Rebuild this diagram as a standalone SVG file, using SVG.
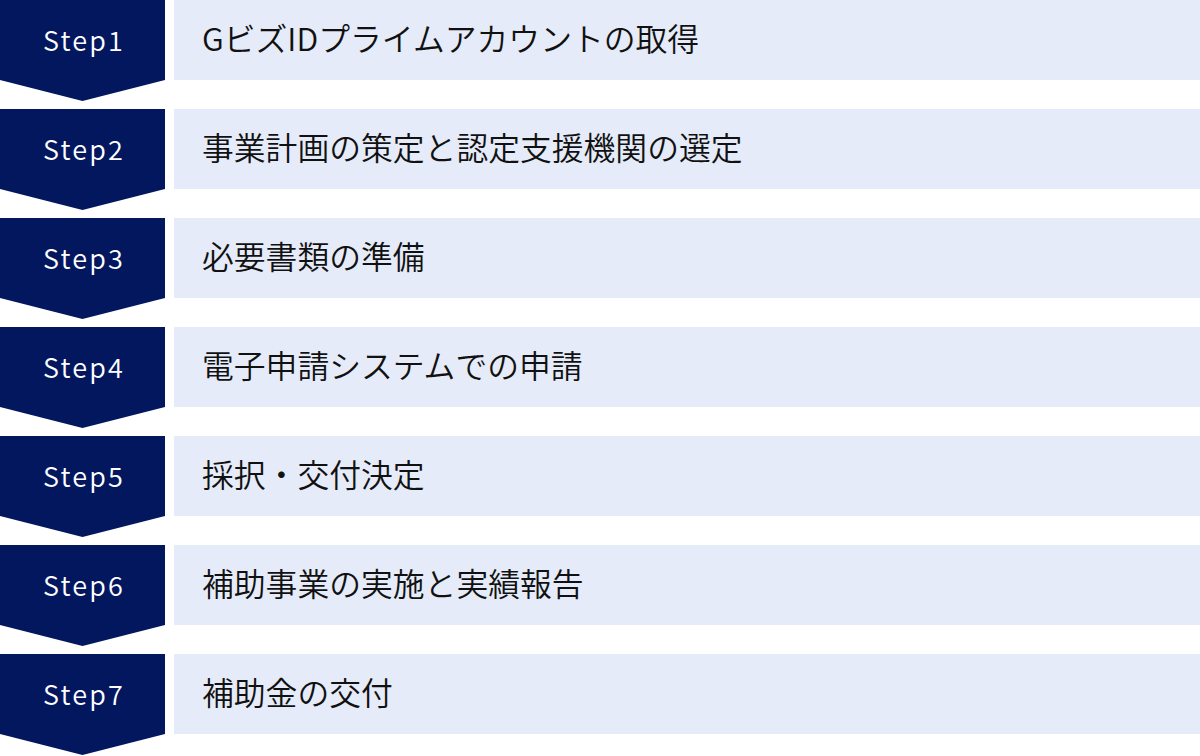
<svg xmlns="http://www.w3.org/2000/svg" width="1200" height="756" viewBox="0 0 1200 756">
<defs>
<style>
.badge{fill:#03175f}
.bar{fill:#e5ebf8}
.step{font-family:"Noto Sans CJK JP","Noto Sans",sans-serif;font-size:27px;font-weight:350;fill:#ffffff;letter-spacing:2.2px;text-anchor:middle}
.label{font-family:"Noto Sans CJK JP","Noto Sans",sans-serif;font-size:31.8px;font-weight:350;fill:#111111}
</style>
<path id="chev" d="M0 0H165V80L82.5 101L0 80Z"/>
</defs>
<rect width="1200" height="756" fill="#ffffff"/>
<g id="connectors"></g>
<g id="step1" transform="translate(0,0)">
<use href="#chev" class="badge"/><rect class="bar" x="174" y="0" width="1026" height="80"/>
<text class="step" x="84" y="51">Step1</text><text class="label" x="202" y="51">GビズIDプライムアカウントの取得</text>
</g>
<g id="step2" transform="translate(0,109)">
<use href="#chev" class="badge"/><rect class="bar" x="174" y="0" width="1026" height="80"/>
<text class="step" x="84" y="51">Step2</text><text class="label" x="202" y="51">事業計画の策定と認定支援機関の選定</text>
</g>
<g id="step3" transform="translate(0,218)">
<use href="#chev" class="badge"/><rect class="bar" x="174" y="0" width="1026" height="80"/>
<text class="step" x="84" y="51">Step3</text><text class="label" x="202" y="51">必要書類の準備</text>
</g>
<g id="step4" transform="translate(0,327)">
<use href="#chev" class="badge"/><rect class="bar" x="174" y="0" width="1026" height="80"/>
<text class="step" x="84" y="51">Step4</text><text class="label" x="202" y="51">電子申請システムでの申請</text>
</g>
<g id="step5" transform="translate(0,436)">
<use href="#chev" class="badge"/><rect class="bar" x="174" y="0" width="1026" height="80"/>
<text class="step" x="84" y="51">Step5</text><text class="label" x="202" y="51">採択・交付決定</text>
</g>
<g id="step6" transform="translate(0,545)">
<use href="#chev" class="badge"/><rect class="bar" x="174" y="0" width="1026" height="80"/>
<text class="step" x="84" y="51">Step6</text><text class="label" x="202" y="51">補助事業の実施と実績報告</text>
</g>
<g id="step7" transform="translate(0,654)">
<use href="#chev" class="badge"/><rect class="bar" x="174" y="0" width="1026" height="80"/>
<text class="step" x="84" y="51">Step7</text><text class="label" x="202" y="51">補助金の交付</text>
</g>
</svg>
